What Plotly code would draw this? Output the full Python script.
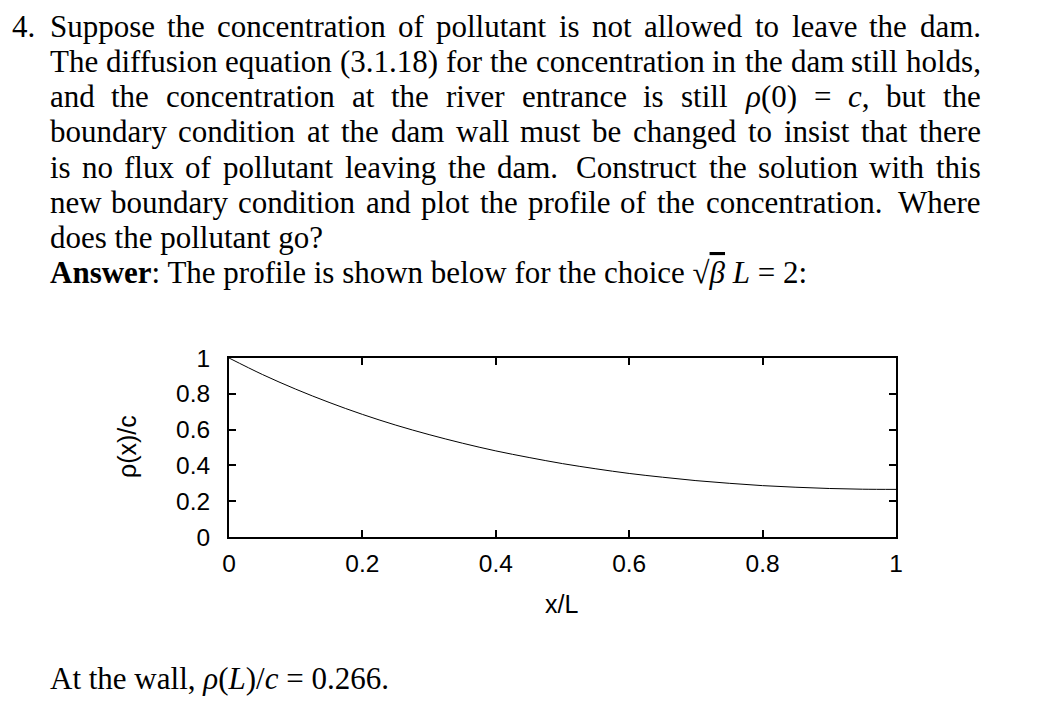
import re
import plotly.graph_objects as go

# ---------------- data ----------------
x_over_L = [0.00, 0.05, 0.10, 0.15, 0.20, 0.25, 0.30, 0.35, 0.40, 0.45, 0.50,
            0.55, 0.60, 0.65, 0.70, 0.75, 0.80, 0.85, 0.90, 0.95, 1.00]
rho_over_c = [1.000, 0.908, 0.826, 0.752, 0.685, 0.625, 0.572, 0.524, 0.481, 0.444, 0.410,
              0.381, 0.355, 0.334, 0.315, 0.300, 0.287, 0.278, 0.271, 0.267, 0.266]
x_ticks = [0, 0.2, 0.4, 0.6, 0.8, 1]
x_tick_labels = ["0", "0.2", "0.4", "0.6", "0.8", "1"]
y_ticks = [0, 0.2, 0.4, 0.6, 0.8, 1]
y_tick_labels = ["0", "0.2", "0.4", "0.6", "0.8", "1"]

# ---------------- page text ----------------
item_label = "4."
justified_lines = [
    "Suppose the concentration of pollutant is not allowed to leave the dam.",
    "The diffusion equation (3.1.18) for the concentration in the dam still holds,",
    "and the concentration at the river entrance is still <i>ρ</i>(0) = <i>c</i>, but the",
    "boundary condition at the dam wall must be changed to insist that there",
    "is no flux of pollutant leaving the dam. Construct the solution with this",
    "new boundary condition and plot the profile of the concentration. Where",
]
plain_lines = [
    "does the pollutant go?",
    "<b>Answer</b>: The profile is shown below for the choice √<span style='text-decoration:overline'><i>β</i></span> <i>L</i> = 2:",
]
footer_line = "At the wall, <i>ρ</i>(<i>L</i>)/<i>c</i> = 0.266."

# ---------------- layout helpers ----------------
W, H = 1037, 701
def px(x):
    return x / W
def py(y):
    return 1 - y / H

SERIF = "Liberation Serif"
SANS = "Liberation Sans"
FS = 31
TICK_FS = 24.5
TITLE_FS = 25
LEFT, RIGHT = 49.5, 981.0
BASE0, LEAD = 36.7, 35.25

TIMES = {' ': 250, '(': 333, ')': 333, ',': 250, '.': 250, '/': 278, ':': 278, '=': 564, '?': 444,
         'A': 722, 'B': 667, 'C': 667, 'D': 722, 'E': 611, 'F': 556, 'G': 722, 'H': 722, 'I': 333,
         'J': 389, 'K': 722, 'L': 611, 'M': 889, 'N': 722, 'O': 722, 'P': 556, 'Q': 722, 'R': 667,
         'S': 556, 'T': 611, 'U': 722, 'V': 722, 'W': 944, 'X': 722, 'Y': 722, 'Z': 611,
         'a': 444, 'b': 500, 'c': 444, 'd': 500, 'e': 444, 'f': 333, 'g': 500, 'h': 500, 'i': 278,
         'j': 278, 'k': 500, 'l': 278, 'm': 778, 'n': 500, 'o': 500, 'p': 500, 'q': 500, 'r': 333,
         's': 389, 't': 278, 'u': 500, 'v': 500, 'w': 722, 'x': 500, 'y': 500, 'z': 444}

def width(word_html):
    plain = re.sub(r"<[^>]+>", "", word_html)
    return sum(TIMES.get(ch, 500) for ch in plain) / 1000 * FS

def text_y(baseline, fs):
    return py(baseline - 0.3375 * fs)

annotations = []
def add_text(txt, x, baseline, anchor="left", fs=FS, family=SERIF):
    annotations.append(dict(text=txt, x=px(x), y=text_y(baseline, fs), xref="paper", yref="paper",
                            xanchor=anchor, yanchor="middle", showarrow=False,
                            borderpad=0, borderwidth=0,
                            font=dict(family=family, size=fs, color="black")))

add_text(item_label, 12.0, BASE0)
for i, line in enumerate(justified_lines):
    words = line.split(" ")
    base = BASE0 + LEAD * i
    widths = [width(w) for w in words]
    # wider stretch after a sentence-ending period (TeX space factor)
    weights = [1.6 if re.sub(r"<[^>]+>", "", w).endswith(".") else 1.0 for w in words[:-1]]
    unit = (RIGHT - LEFT - sum(widths)) / sum(weights)
    xpos = LEFT
    for j, w in enumerate(words):
        if j == 0:
            add_text(w, LEFT, base, anchor="left")
        elif j == len(words) - 1:
            add_text(w, RIGHT, base, anchor="right")
        else:
            add_text(w, xpos + widths[j] / 2, base, anchor="center")
        if j < len(weights):
            xpos += widths[j] + unit * weights[j]
for k, line in enumerate(plain_lines):
    add_text(line, LEFT, BASE0 + LEAD * (len(justified_lines) + k))
add_text(footer_line, LEFT, 689.0)

# axis titles
annotations.append(dict(text="x/L", x=px(561.5), y=py(603.5), xref="paper", yref="paper",
                        xanchor="center", yanchor="middle", showarrow=False,
                        font=dict(family=SANS, size=TITLE_FS, color="black")))
annotations.append(dict(text="ρ(x)/c", x=px(127), y=py(447), xref="paper", yref="paper",
                        xanchor="center", yanchor="middle", showarrow=False, textangle=-90,
                        font=dict(family=SANS, size=TITLE_FS, color="black")))

fig = go.Figure()
fig.add_trace(go.Scatter(x=x_over_L, y=rho_over_c, mode="lines", line_shape="spline",
                         line=dict(color="black", width=1), showlegend=False, hoverinfo="skip"))

axis_common = dict(range=[0, 1], ticks="inside", ticklen=7, tickwidth=1.5, tickcolor="black",
                   showline=True, linecolor="black", linewidth=2, mirror="ticks",
                   showgrid=False, zeroline=False, fixedrange=True, automargin=False,
                   tickfont=dict(family=SANS, size=TICK_FS, color="black"))

fig.update_layout(
    template="none",
    width=W, height=H, autosize=False,
    margin=dict(l=0, r=0, t=0, b=0, pad=0, autoexpand=False),
    paper_bgcolor="white", plot_bgcolor="white",
    xaxis=dict(domain=[px(229), px(896)], tickvals=x_ticks, ticktext=x_tick_labels,
               ticklabelstandoff=4, **axis_common),
    yaxis=dict(domain=[py(537), py(358)], tickvals=y_ticks, ticktext=y_tick_labels,
               ticklabelstandoff=12, **axis_common),
    annotations=annotations,
    showlegend=False,
)

fig.write_html("out.html")
